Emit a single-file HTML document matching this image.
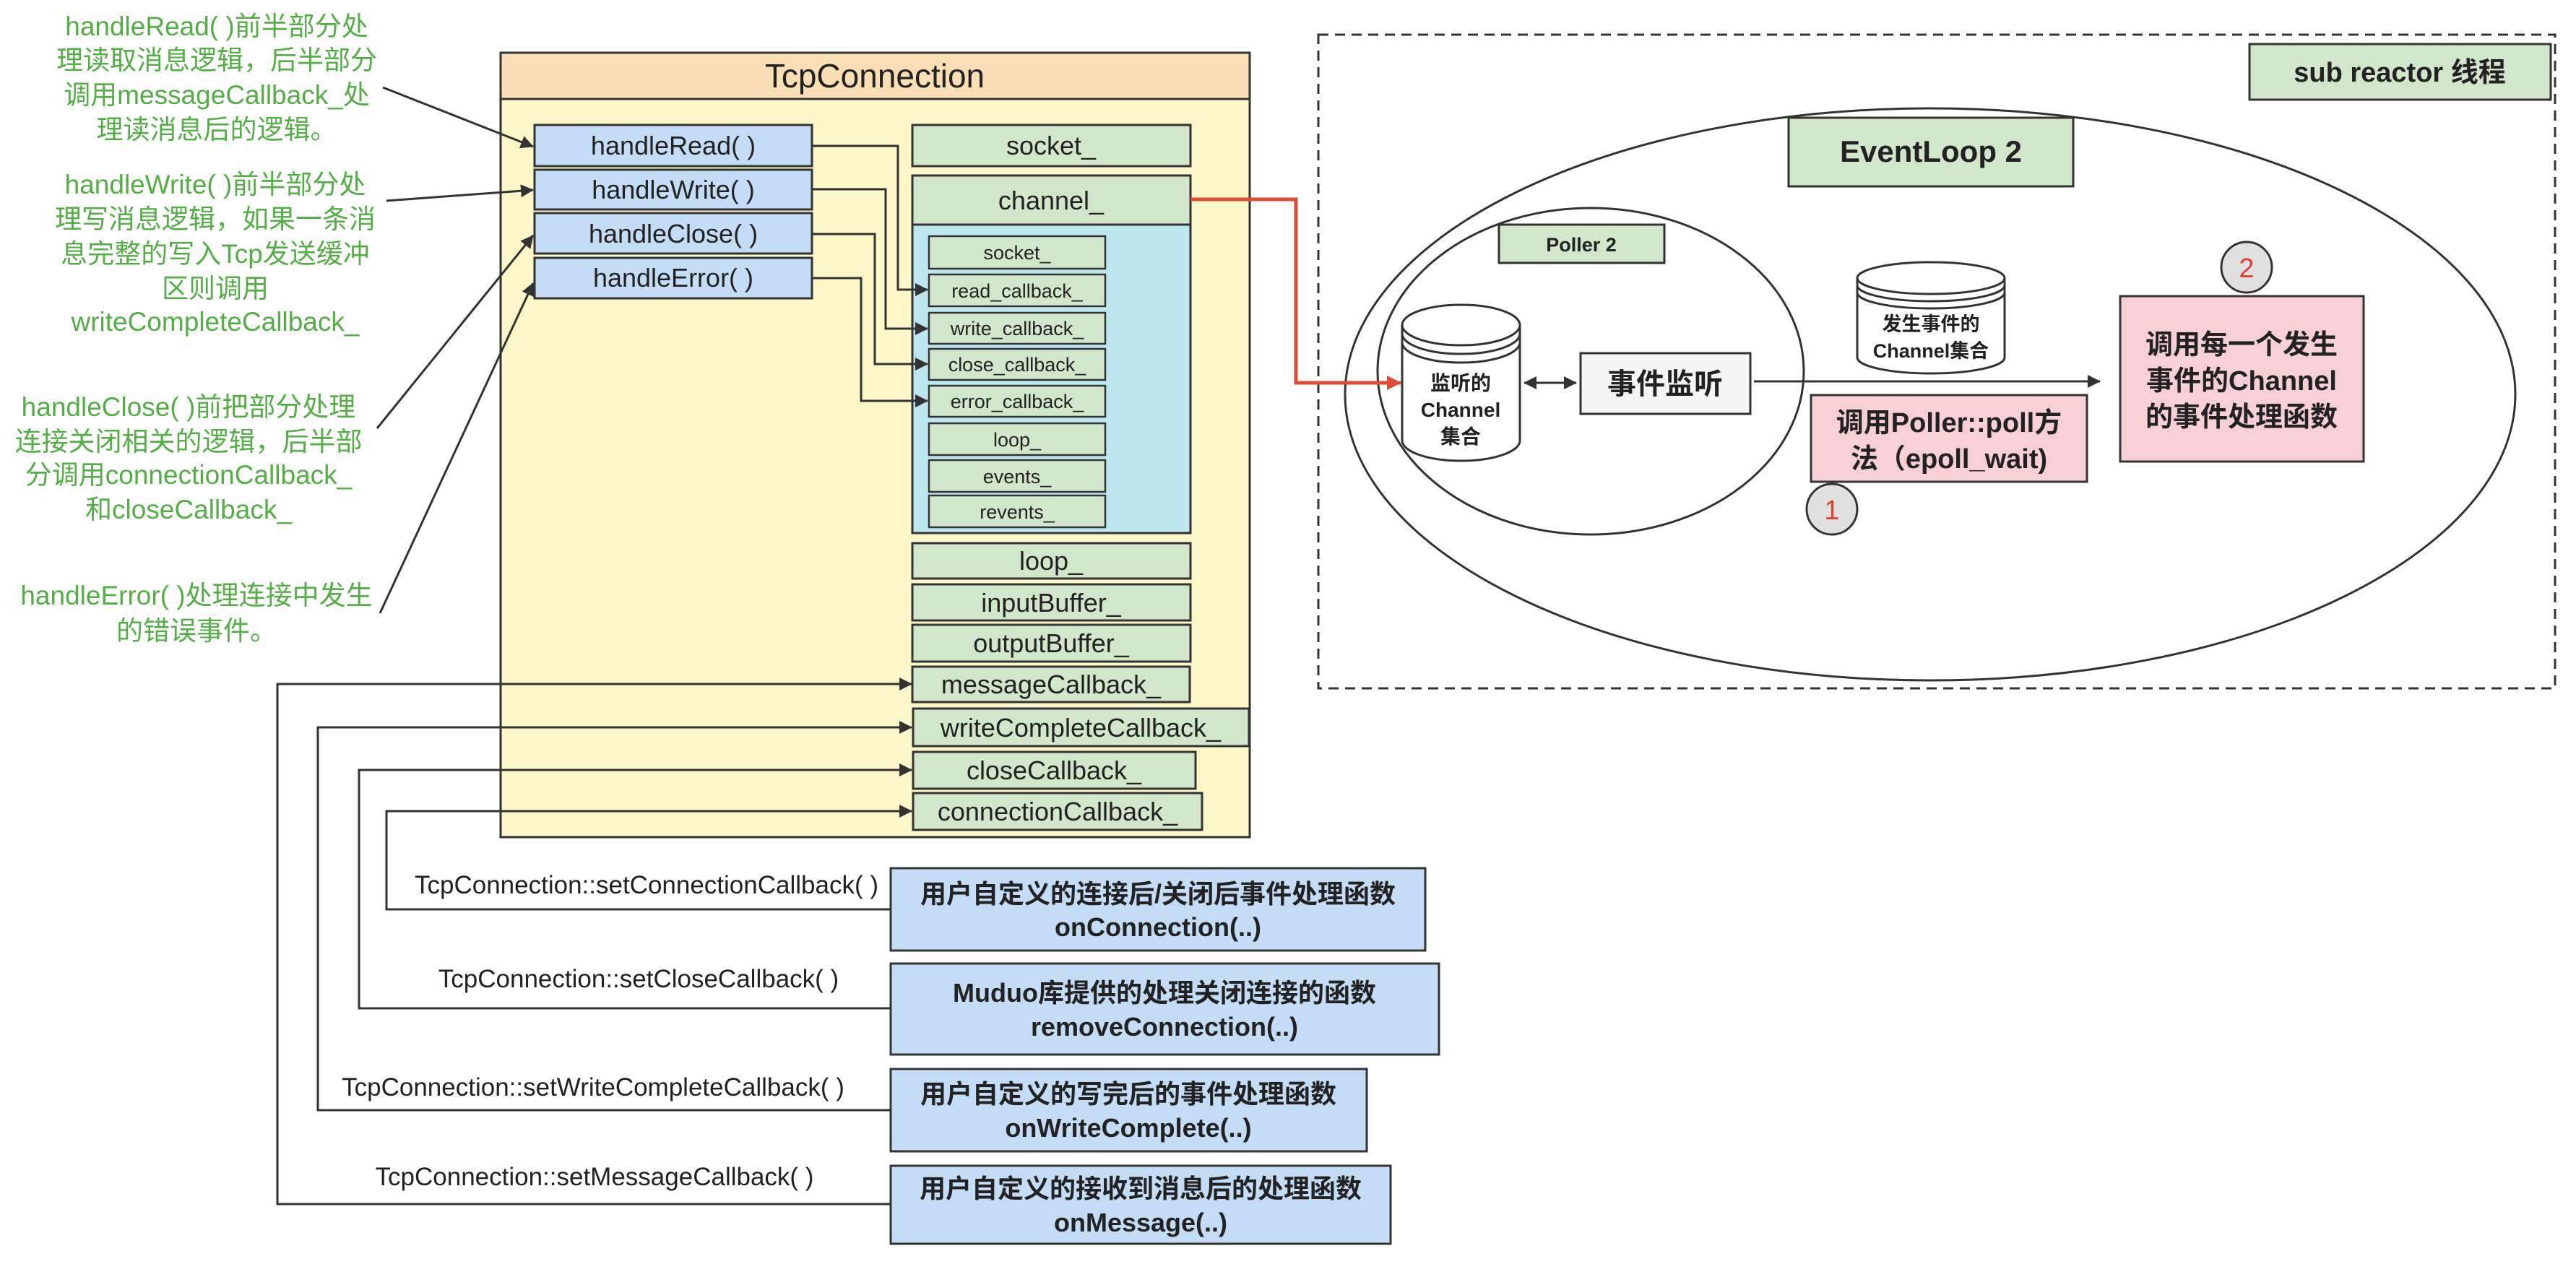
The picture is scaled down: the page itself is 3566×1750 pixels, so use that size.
<!DOCTYPE html>
<html><head><meta charset="utf-8"><style>
html,body{margin:0;padding:0;background:#fff;}
svg{display:block;font-family:"Liberation Sans","Noto Sans CJK SC",sans-serif;}
</style></head><body>
<svg width="3566" height="1750" viewBox="0 0 3566 1750" xmlns="http://www.w3.org/2000/svg">
<defs>
<marker id="arb" markerWidth="18" markerHeight="18" refX="17" refY="9" orient="auto" markerUnits="userSpaceOnUse"><path d="M0,0 L18,9 L0,18 z" fill="#333"/></marker>
<marker id="arr" markerWidth="20" markerHeight="20" refX="19" refY="10" orient="auto" markerUnits="userSpaceOnUse"><path d="M0,0 L20,10 L0,20 z" fill="#e04a38"/></marker>
<marker id="ars" markerWidth="18" markerHeight="18" refX="1" refY="9" orient="auto" markerUnits="userSpaceOnUse"><path d="M18,0 L0,9 L18,18 z" fill="#333"/></marker>
</defs>

<g fill="#55ad47" font-size="37" text-anchor="middle">
<text x="300" y="49">handleRead( )前半部分处</text>
<text x="300" y="96">理读取消息逻辑，后半部分</text>
<text x="300" y="144">调用messageCallback_处</text>
<text x="300" y="192">理读消息后的逻辑。</text>
<text x="298" y="268">handleWrite( )前半部分处</text>
<text x="298" y="316">理写消息逻辑，如果一条消</text>
<text x="298" y="364">息完整的写入Tcp发送缓冲</text>
<text x="298" y="412">区则调用</text>
<text x="298" y="458">writeCompleteCallback_</text>
<text x="261" y="576">handleClose( )前把部分处理</text>
<text x="261" y="624">连接关闭相关的逻辑，后半部</text>
<text x="261" y="670">分调用connectionCallback_</text>
<text x="261" y="718">和closeCallback_</text>
<text x="272" y="837">handleError( )处理连接中发生</text>
<text x="272" y="886">的错误事件。</text>
</g>

<rect x="693" y="73" width="1037" height="1086" fill="#fdf6c8" stroke="#333" stroke-width="3"/>
<rect x="693" y="73" width="1037" height="64" fill="#fadfb6" stroke="#333" stroke-width="3"/>
<text x="1211" y="121" font-size="46" text-anchor="middle" fill="#222">TcpConnection</text>

<g fill="#c4dcf5" stroke="#333" stroke-width="3">
<rect x="740" y="173" width="384" height="57"/>
<rect x="740" y="235" width="384" height="55"/>
<rect x="740" y="295" width="384" height="56"/>
<rect x="740" y="357" width="384" height="56"/>
</g>
<g font-size="36" text-anchor="middle" fill="#222">
<text x="932" y="214">handleRead( )</text>
<text x="932" y="275">handleWrite( )</text>
<text x="932" y="336">handleClose( )</text>
<text x="932" y="397">handleError( )</text>
</g>

<g stroke="#333" stroke-width="3">
<rect x="1263" y="173" width="385" height="57" fill="#d2e6cc"/>
<rect x="1263" y="311" width="385" height="427" fill="#bde6ef"/>
<rect x="1263" y="243" width="385" height="68" fill="#d2e6cc"/>
<g fill="#d2e6cc" stroke-width="2.5">
<rect x="1286" y="327" width="244" height="45"/>
<rect x="1286" y="380" width="244" height="44"/>
<rect x="1286" y="433" width="244" height="43"/>
<rect x="1286" y="483" width="244" height="43"/>
<rect x="1286" y="534" width="244" height="43"/>
<rect x="1286" y="586" width="244" height="44"/>
<rect x="1286" y="637" width="244" height="44"/>
<rect x="1286" y="686" width="244" height="44"/>
</g>
<g fill="#d2e6cc">
<rect x="1263" y="752" width="385" height="49"/>
<rect x="1263" y="809" width="385" height="50"/>
<rect x="1263" y="865" width="385" height="51"/>
<rect x="1263" y="923" width="384" height="49"/>
<rect x="1264" y="981" width="465" height="52"/>
<rect x="1264" y="1041" width="391" height="51"/>
<rect x="1264" y="1098" width="400" height="51"/>
</g>
</g>
<g font-size="36" text-anchor="middle" fill="#222">
<text x="1455" y="214">socket_</text>
<text x="1455" y="290">channel_</text>
<text x="1455" y="789">loop_</text>
<text x="1455" y="847">inputBuffer_</text>
<text x="1455" y="903">outputBuffer_</text>
<text x="1455" y="960">messageCallback_</text>
<text x="1496" y="1020">writeCompleteCallback_</text>
<text x="1459" y="1079">closeCallback_</text>
<text x="1464" y="1136">connectionCallback_</text>
</g>
<g font-size="27" text-anchor="middle" fill="#222">
<text x="1408" y="359">socket_</text>
<text x="1408" y="412">read_callback_</text>
<text x="1408" y="464">write_callback_</text>
<text x="1408" y="514">close_callback_</text>
<text x="1408" y="565">error_callback_</text>
<text x="1408" y="618">loop_</text>
<text x="1408" y="669">events_</text>
<text x="1408" y="718">revents_</text>
</g>

<g fill="none" stroke="#333" stroke-width="3">
<polyline points="1124,202 1243,202 1243,401 1284,401" marker-end="url(#arb)"/>
<polyline points="1124,262 1226,262 1226,455 1284,455" marker-end="url(#arb)"/>
<polyline points="1124,324 1211,324 1211,504 1284,504" marker-end="url(#arb)"/>
<polyline points="1124,385 1192,385 1192,555 1284,555" marker-end="url(#arb)"/>
<line x1="530" y1="121" x2="738" y2="203" marker-end="url(#arb)"/>
<line x1="535" y1="278" x2="738" y2="263" marker-end="url(#arb)"/>
<line x1="522" y1="593" x2="738" y2="326" marker-end="url(#arb)"/>
<line x1="526" y1="849" x2="738" y2="392" marker-end="url(#arb)"/>
<polyline points="1233,1667 384,1667 384,947 1262,947" marker-end="url(#arb)"/>
<polyline points="1233,1537 440,1537 440,1007 1262,1007" marker-end="url(#arb)"/>
<polyline points="1233,1396 497,1396 497,1066 1262,1066" marker-end="url(#arb)"/>
<polyline points="1233,1259 535,1259 535,1123 1262,1123" marker-end="url(#arb)"/>
</g>

<g font-size="35" text-anchor="middle" fill="#222">
<text x="895" y="1237">TcpConnection::setConnectionCallback( )</text>
<text x="884" y="1367">TcpConnection::setCloseCallback( )</text>
<text x="821" y="1517">TcpConnection::setWriteCompleteCallback( )</text>
<text x="823" y="1641">TcpConnection::setMessageCallback( )</text>
</g>

<g fill="#c4dcf5" stroke="#333" stroke-width="3">
<rect x="1233" y="1202" width="740" height="114"/>
<rect x="1233" y="1334" width="759" height="126"/>
<rect x="1233" y="1480" width="659" height="114"/>
<rect x="1233" y="1614" width="692" height="108"/>
</g>
<g font-size="36" font-weight="bold" text-anchor="middle" fill="#222">
<text x="1603" y="1250">用户自定义的连接后/关闭后事件处理函数</text>
<text x="1603" y="1296">onConnection(..)</text>
<text x="1612" y="1387">Muduo库提供的处理关闭连接的函数</text>
<text x="1612" y="1434">removeConnection(..)</text>
<text x="1562" y="1527">用户自定义的写完后的事件处理函数</text>
<text x="1562" y="1574">onWriteComplete(..)</text>
<text x="1579" y="1658">用户自定义的接收到消息后的处理函数</text>
<text x="1579" y="1705">onMessage(..)</text>
</g>

<rect x="1825" y="48" width="1712" height="905" fill="none" stroke="#333" stroke-width="3" stroke-dasharray="14,9"/>
<rect x="3114" y="61" width="417" height="77" fill="#d2e6cc" stroke="#333" stroke-width="3"/>
<text x="3322" y="113" font-size="38" font-weight="bold" text-anchor="middle" fill="#222">sub reactor 线程</text>

<ellipse cx="2672" cy="546" rx="810" ry="396" fill="none" stroke="#333" stroke-width="3"/>
<rect x="2476" y="163" width="394" height="95" fill="#d2e6cc" stroke="#333" stroke-width="3"/>
<text x="2673" y="224" font-size="42" font-weight="bold" text-anchor="middle" fill="#222">EventLoop 2</text>

<ellipse cx="2202" cy="514" rx="295" ry="226" fill="none" stroke="#333" stroke-width="3"/>
<rect x="2075" y="311" width="229" height="53" fill="#d2e6cc" stroke="#333" stroke-width="3"/>
<text x="2189" y="348" font-size="27" font-weight="bold" text-anchor="middle" fill="#222">Poller 2</text>

<g fill="#fff" stroke="#333" stroke-width="3">
<path d="M1941,450 L1941,610 A81.5,28 0 0 0 2104,610 L2104,450"/>
<ellipse cx="2022.5" cy="450" rx="81.5" ry="28"/>
<path d="M1941,462 A81.5,28 0 0 0 2104,462 M1941,474 A81.5,28 0 0 0 2104,474" fill="none"/>
</g>
<g font-size="28" font-weight="bold" text-anchor="middle" fill="#222">
<text x="2022" y="540">监听的</text>
<text x="2022" y="577">Channel</text>
<text x="2022" y="614">集合</text>
</g>
<g fill="#fff" stroke="#333" stroke-width="3">
<path d="M2571,385 L2571,495 A102,22 0 0 0 2775,495 L2775,385"/>
<ellipse cx="2673" cy="385" rx="102" ry="22"/>
<path d="M2571,395 A102,22 0 0 0 2775,395 M2571,405 A102,22 0 0 0 2775,405" fill="none"/>
</g>
<g font-size="27" font-weight="bold" text-anchor="middle" fill="#222">
<text x="2673" y="458">发生事件的</text>
<text x="2673" y="495">Channel集合</text>
</g>

<rect x="2188" y="489" width="235" height="84" fill="#f5f5f5" stroke="#333" stroke-width="3"/>
<text x="2305" y="545" font-size="40" font-weight="bold" text-anchor="middle" fill="#222">事件监听</text>

<line x1="2110" y1="530" x2="2182" y2="530" stroke="#333" stroke-width="3" marker-start="url(#ars)" marker-end="url(#arb)"/>
<line x1="2428" y1="528" x2="2907" y2="528" stroke="#333" stroke-width="3" marker-end="url(#arb)"/>

<polyline points="1648,276 1794,276 1794,530 1939,530" fill="none" stroke="#e04a38" stroke-width="5" marker-end="url(#arr)"/>

<rect x="2507" y="547" width="382" height="120" fill="#f7d0d5" stroke="#333" stroke-width="3"/>
<g font-size="38" font-weight="bold" text-anchor="middle" fill="#222">
<text x="2698" y="598">调用Poller::poll方</text>
<text x="2698" y="648">法（epoll_wait)</text>
</g>
<rect x="2935" y="410" width="337" height="229" fill="#f7d0d5" stroke="#333" stroke-width="3"/>
<g font-size="38" font-weight="bold" text-anchor="middle" fill="#222">
<text x="3103" y="490">调用每一个发生</text>
<text x="3103" y="540">事件的Channel</text>
<text x="3103" y="590">的事件处理函数</text>
</g>

<circle cx="2536" cy="705" r="35" fill="#e0e0e0" stroke="#333" stroke-width="3"/>
<text x="2536" y="719" font-size="38" text-anchor="middle" fill="#e2412e">1</text>
<circle cx="3110" cy="370" r="35" fill="#e0e0e0" stroke="#333" stroke-width="3"/>
<text x="3110" y="384" font-size="38" text-anchor="middle" fill="#e2412e">2</text>
</svg>
</body></html>
